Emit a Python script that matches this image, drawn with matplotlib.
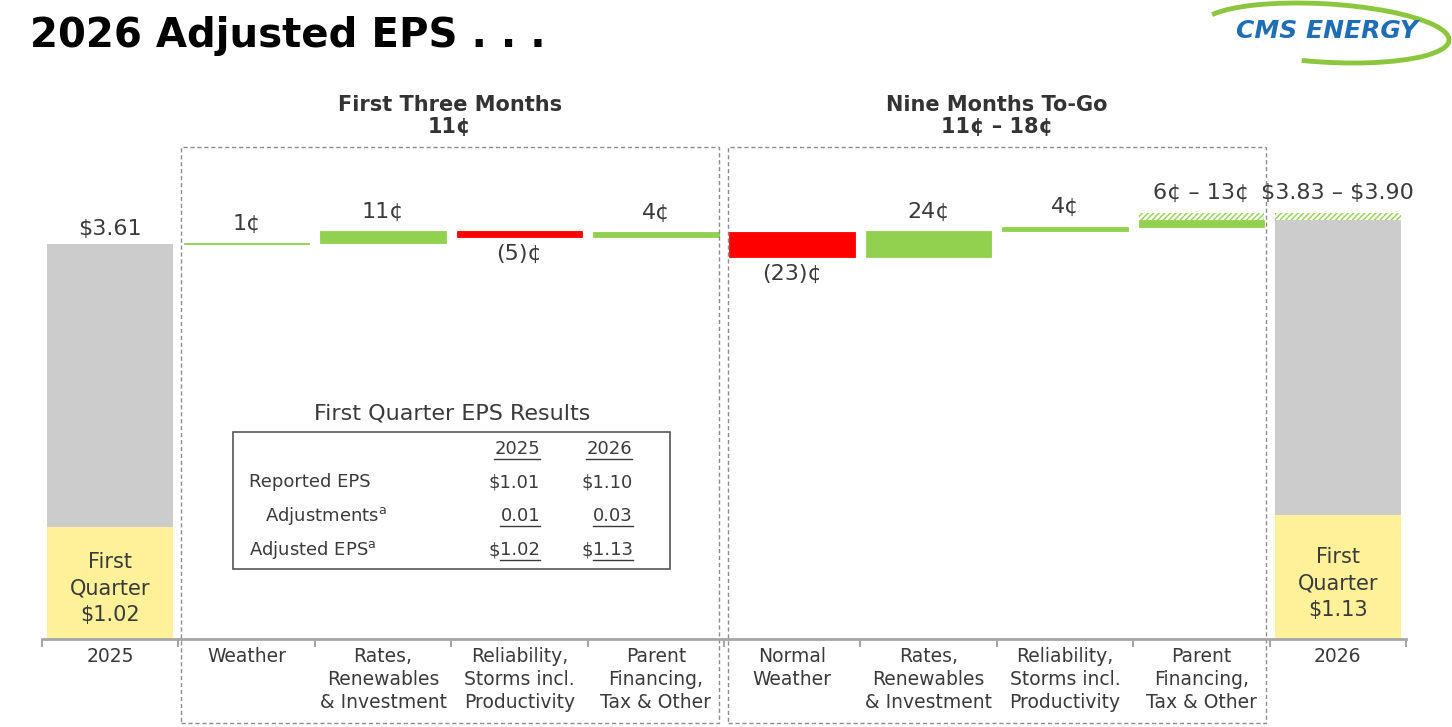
import matplotlib
matplotlib.use("Agg")
import matplotlib.pyplot as plt
from matplotlib.patches import Rectangle, Arc
from matplotlib.lines import Line2D
import numpy as np

plt.rcParams['font.family'] = ['DejaVu Sans']
plt.rcParams['hatch.linewidth'] = 1.0

W, H = 1452, 727

categories = ["2025", "Weather", "Rates,\nRenewables\n& Investment",
              "Reliability,\nStorms incl.\nProductivity", "Parent\nFinancing,\nTax & Other",
              "Normal\nWeather", "Rates,\nRenewables\n& Investment",
              "Reliability,\nStorms incl.\nProductivity", "Parent\nFinancing,\nTax & Other",
              "2026"]
start_eps = 3.61
first_quarter = [1.02, 1.13]
changes = [0.01, 0.11, -0.05, 0.04, -0.23, 0.24, 0.04, 0.06]
last_change_high = 0.13
change_labels = ["1¢", "11¢", "(5)¢", "4¢", "(23)¢", "24¢", "4¢", "6¢ – 13¢"]
end_low, end_high = 3.83, 3.90
start_label = "\\$3.61"
end_label = "\\$3.83 – \\$3.90"

table_years = ["2025", "2026"]
table_rows = ["Reported EPS", "Adjustments$^{\\mathrm{a}}$", "Adjusted EPS$^{\\mathrm{a}}$"]
reported = ["$1.01", "$1.10"]
adjustments = ["0.01", "0.03"]
adjusted = ["1.02", "1.13"]

GREEN = "#92d050"
RED = "#ff0000"
GRAY = "#cccccc"
YELLOW = "#fff09a"
TXT = "#3a3a3a"


def F(x, y):
    return x / W, 1 - y / H


fig = plt.figure(figsize=(W / 100, H / 100), dpi=100)
ax = fig.add_axes([42 / W, 88 / H, 1364 / W, 492 / H])
ax.set_xlim(-0.5, 9.5)
ax.set_ylim(0, 4.5)

bw = 0.92
# start bar
ax.bar(0, first_quarter[0], bw, color=YELLOW)
ax.bar(0, start_eps - first_quarter[0], bw, bottom=first_quarter[0], color=GRAY)
ax.annotate(start_label, (0, start_eps), xytext=(0, 4), textcoords="offset points",
            ha="center", va="bottom", fontsize=16, color=TXT)
ax.text(0, first_quarter[0] * 0.45, "First\nQuarter\n$1.02", ha="center", va="center",
        fontsize=15, color=TXT, linespacing=1.4, parse_math=False)

# waterfall steps
level = start_eps
for i, ch in enumerate(changes):
    x = i + 1
    bottom = level if ch > 0 else level + ch
    col = GREEN if ch > 0 else RED
    ax.bar(x, abs(ch), bw, bottom=bottom, color=col, edgecolor=col, linewidth=0.6)
    top = bottom + abs(ch)
    if i == len(changes) - 1:
        ax.bar(x, last_change_high - ch, bw, bottom=top, facecolor="white",
               edgecolor=GREEN, hatch="//////", linewidth=0)
        top = level + last_change_high
    if ch > 0:
        ax.annotate(change_labels[i], (x, top), xytext=(0, 7), textcoords="offset points",
                    ha="center", va="bottom", fontsize=16, color=TXT)
    else:
        ax.annotate(change_labels[i], (x, bottom), xytext=(0, -5), textcoords="offset points",
                    ha="center", va="top", fontsize=16, color=TXT)
    level += ch

# end bar
ax.bar(9, first_quarter[1], bw, color=YELLOW)
ax.bar(9, end_low - first_quarter[1], bw, bottom=first_quarter[1], color=GRAY)
ax.bar(9, end_high - end_low, bw, bottom=end_low, facecolor="white", edgecolor=GREEN,
       hatch="//////", linewidth=0)
ax.annotate(end_label, (9, end_high), xytext=(0, 7), textcoords="offset points",
            ha="center", va="bottom", fontsize=16, color=TXT)
ax.text(9, first_quarter[1] * 0.45, "First\nQuarter\n$1.13", ha="center", va="center",
        fontsize=15, color=TXT, linespacing=1.4, parse_math=False)

# axes styling
for s in ["top", "right", "left"]:
    ax.spines[s].set_visible(False)
ax.spines["bottom"].set_color("#a6a6a6")
ax.spines["bottom"].set_linewidth(2)
ax.set_yticks([])
ax.set_xticks(range(len(categories)))
ax.set_xticklabels(categories, fontsize=13.5, color=TXT, linespacing=1.25, va="top")
ax.tick_params(axis="x", which="major", length=0, pad=6)
ax.set_xticks(np.arange(-0.5, 10, 1), minor=True)
ax.tick_params(axis="x", which="minor", length=6, width=1.5, color="#a6a6a6")

# dashed group boxes
for x0, x1 in [(0.52, 4.46), (4.53, 8.47)]:
    ax.add_patch(Rectangle((x0, -0.77), x1 - x0, 4.5 + 0.77, fill=False, edgecolor="#8c8c8c",
                           linewidth=1, linestyle=(0, (3, 2)), clip_on=False))
ax.text(2.49, 4.88, "First Three Months", ha="center", va="center", fontsize=15,
        fontweight="bold", color="#333333")
ax.text(2.49, 4.68, "11¢", ha="center", va="center", fontsize=15, fontweight="bold",
        color="#333333")
ax.text(6.5, 4.88, "Nine Months To-Go", ha="center", va="center", fontsize=15,
        fontweight="bold", color="#333333")
ax.text(6.5, 4.68, "11¢ – 18¢", ha="center", va="center", fontsize=15, fontweight="bold",
        color="#333333")

# title and logo
fig.text(*F(30, 36), "2026 Adjusted EPS . . .", fontsize=29, fontweight="bold",
         color="black", va="center", ha="left")
arc = Arc(F(1325, 33), 250 / W, 58 / H, angle=-8, theta1=-105, theta2=170,
          color="#8cc63f", linewidth=3.5, transform=fig.transFigure)
fig.add_artist(arc)
fig.text(*F(1327, 31), "CMS ENERGY", fontsize=18, fontweight="heavy", fontstyle="italic",
         color="#1f6db5", ha="center", va="center")

# table
fig.text(*F(452, 414), "First Quarter EPS Results", fontsize=16, color=TXT,
         ha="center", va="center")
fig.add_artist(Rectangle(F(233, 569), 437 / W, 137 / H, fill=False, edgecolor="#555555",
                         linewidth=1.2, transform=fig.transFigure))
under = []
for j, yr in enumerate(table_years):
    under.append(fig.text(*F([517, 609][j], 449), yr, fontsize=13, color=TXT,
                          ha="center", va="center"))
for k, lab in enumerate(table_rows):
    fig.text(*F(265 if k == 1 else 249, 482 + 34 * k), lab, fontsize=13, color=TXT,
             ha="left", va="center")
col_x = [540, 633]
for j in range(2):
    fig.text(*F(col_x[j], 482), reported[j], fontsize=13, color=TXT, ha="right",
             va="center", parse_math=False)
    under.append(fig.text(*F(col_x[j], 516), adjustments[j], fontsize=13, color=TXT,
                          ha="right", va="center"))
    t = fig.text(*F(col_x[j], 550), adjusted[j], fontsize=13, color=TXT, ha="right",
                 va="center")
    under.append(t)

fig.canvas.draw()
r = fig.canvas.get_renderer()
for t in under:
    bb = t.get_window_extent(r)
    yl = bb.y0 - 1
    fig.add_artist(Line2D([bb.x0 / W, bb.x1 / W], [yl / H, yl / H], color=TXT, linewidth=1,
                          transform=fig.transFigure))
    if t.get_text() in adjusted:
        fig.text(bb.x0 / W, 1 - 550 / H, "$", fontsize=13, color=TXT, ha="right",
                 va="center", parse_math=False)

fig.savefig("out.png", dpi=100)
